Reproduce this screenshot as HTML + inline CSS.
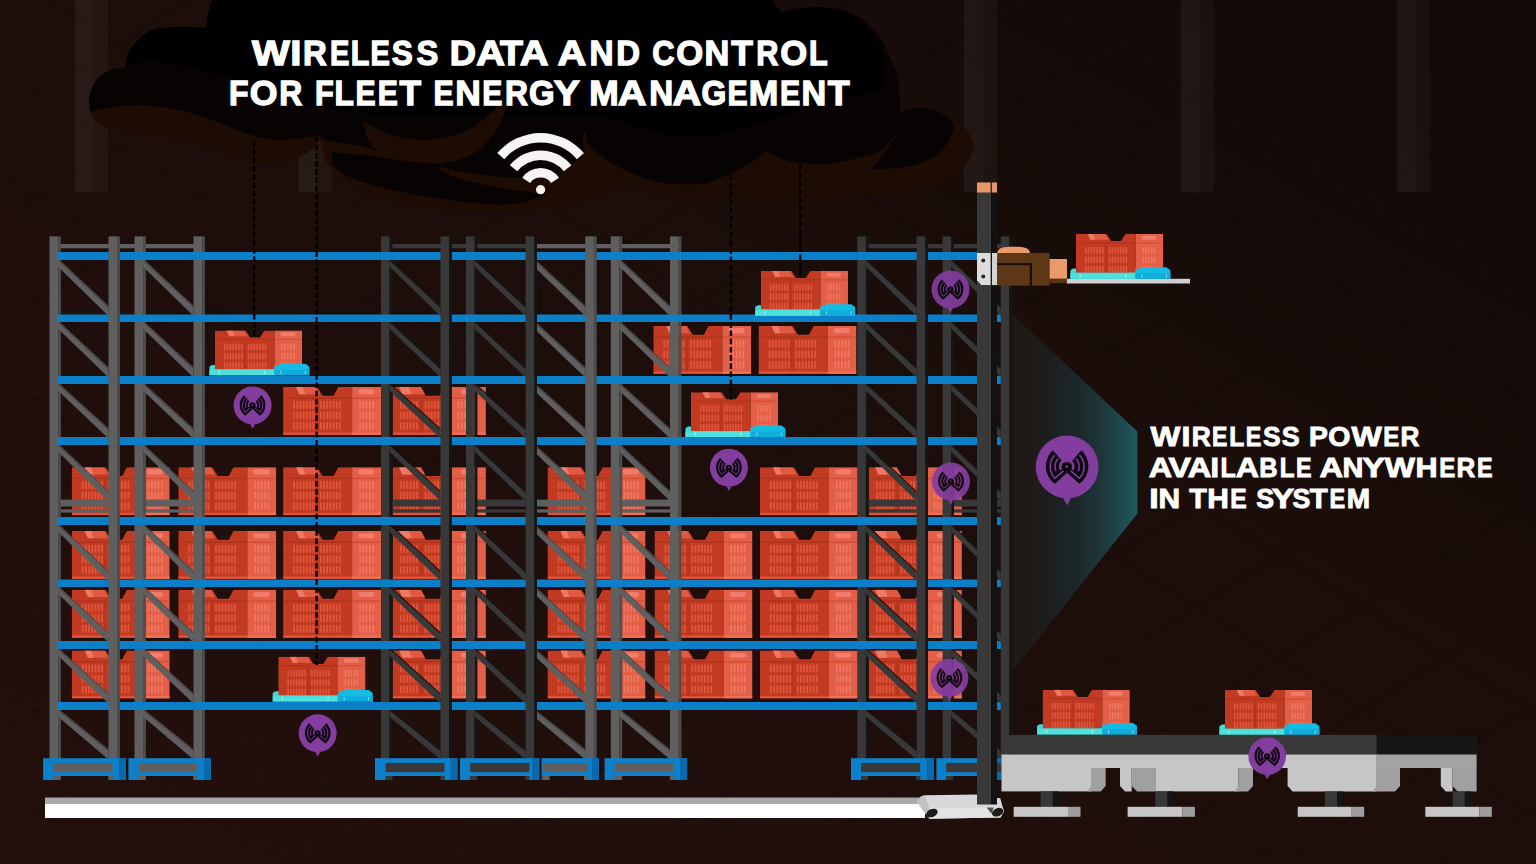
<!DOCTYPE html><html><head><meta charset="utf-8"><style>html,body{margin:0;padding:0;background:#1c0d0b;overflow:hidden}svg{display:block}</style></head><body>
<svg width="1536" height="864" viewBox="0 0 1536 864">
<defs>
<linearGradient id="bg" x1="0" y1="1" x2="1" y2="0"><stop offset="0" stop-color="#24100c"/><stop offset="0.25" stop-color="#210f0c"/><stop offset="0.5" stop-color="#1d0e0b"/><stop offset="0.65" stop-color="#1a0d0a"/><stop offset="0.8" stop-color="#150b08"/><stop offset="1" stop-color="#120906"/></linearGradient>
<linearGradient id="cone" x1="0" y1="0" x2="1" y2="0"><stop offset="0" stop-color="#201816"/><stop offset="0.15" stop-color="#1f1a18"/><stop offset="0.3" stop-color="#1d1e1e"/><stop offset="0.5" stop-color="#1c2729"/><stop offset="0.7" stop-color="#1d3539"/><stop offset="0.85" stop-color="#1e464c"/><stop offset="1" stop-color="#1f5960"/></linearGradient>
<linearGradient id="col" x1="0" y1="0" x2="1" y2="0"><stop offset="0" stop-color="#2c1c1a"/><stop offset="0.6" stop-color="#2a1a18"/><stop offset="1" stop-color="#251614"/></linearGradient>
<symbol id="crate" viewBox="0 0 98 49" preserveAspectRatio="none"><path d="M0 0H34L39.5 9H50.5L55.2 0H69V49H0Z" fill="#c23a22"/><rect x="69" y="0" width="29" height="49" fill="#e45f47"/><path d="M13 0H32.5L36.8 7.4H16.2Z" fill="#e05a42"/><path d="M13 0H19.5L22.0 7.4H16.2Z" fill="#ed7a64"/><rect x="0" y="10.7" width="69" height="1.4" fill="#ad341e"/><rect x="69" y="10.7" width="29" height="1.4" fill="#d14d36"/><rect x="32.5" y="11" width="2" height="38" fill="#b1361f"/><rect x="75" y="2.2" width="16.5" height="5.2" rx="2.5" fill="#f17c6b"/><rect x="10.10" y="14.3" width="1.8" height="7.8" fill="#df563d"/><rect x="10.10" y="25.1" width="1.8" height="7.6" fill="#df563d"/><rect x="10.10" y="35.8" width="1.8" height="7.6" fill="#df563d"/><rect x="13.30" y="14.3" width="1.8" height="7.8" fill="#df563d"/><rect x="13.30" y="25.1" width="1.8" height="7.6" fill="#df563d"/><rect x="13.30" y="35.8" width="1.8" height="7.6" fill="#df563d"/><rect x="16.50" y="14.3" width="1.8" height="7.8" fill="#df563d"/><rect x="16.50" y="25.1" width="1.8" height="7.6" fill="#df563d"/><rect x="16.50" y="35.8" width="1.8" height="7.6" fill="#df563d"/><rect x="19.70" y="14.3" width="1.8" height="7.8" fill="#df563d"/><rect x="19.70" y="25.1" width="1.8" height="7.6" fill="#df563d"/><rect x="19.70" y="35.8" width="1.8" height="7.6" fill="#df563d"/><rect x="22.90" y="14.3" width="1.8" height="7.8" fill="#df563d"/><rect x="22.90" y="25.1" width="1.8" height="7.6" fill="#df563d"/><rect x="22.90" y="35.8" width="1.8" height="7.6" fill="#df563d"/><rect x="26.10" y="14.3" width="1.8" height="7.8" fill="#df563d"/><rect x="26.10" y="25.1" width="1.8" height="7.6" fill="#df563d"/><rect x="26.10" y="35.8" width="1.8" height="7.6" fill="#df563d"/><rect x="29.30" y="14.3" width="1.8" height="7.8" fill="#df563d"/><rect x="29.30" y="25.1" width="1.8" height="7.6" fill="#df563d"/><rect x="29.30" y="35.8" width="1.8" height="7.6" fill="#df563d"/><rect x="36.90" y="14.3" width="1.8" height="7.8" fill="#df563d"/><rect x="36.90" y="25.1" width="1.8" height="7.6" fill="#df563d"/><rect x="36.90" y="35.8" width="1.8" height="7.6" fill="#df563d"/><rect x="40.05" y="14.3" width="1.8" height="7.8" fill="#df563d"/><rect x="40.05" y="25.1" width="1.8" height="7.6" fill="#df563d"/><rect x="40.05" y="35.8" width="1.8" height="7.6" fill="#df563d"/><rect x="43.20" y="14.3" width="1.8" height="7.8" fill="#df563d"/><rect x="43.20" y="25.1" width="1.8" height="7.6" fill="#df563d"/><rect x="43.20" y="35.8" width="1.8" height="7.6" fill="#df563d"/><rect x="46.35" y="14.3" width="1.8" height="7.8" fill="#df563d"/><rect x="46.35" y="25.1" width="1.8" height="7.6" fill="#df563d"/><rect x="46.35" y="35.8" width="1.8" height="7.6" fill="#df563d"/><rect x="49.50" y="14.3" width="1.8" height="7.8" fill="#df563d"/><rect x="49.50" y="25.1" width="1.8" height="7.6" fill="#df563d"/><rect x="49.50" y="35.8" width="1.8" height="7.6" fill="#df563d"/><rect x="52.65" y="14.3" width="1.8" height="7.8" fill="#df563d"/><rect x="52.65" y="25.1" width="1.8" height="7.6" fill="#df563d"/><rect x="52.65" y="35.8" width="1.8" height="7.6" fill="#df563d"/><rect x="55.80" y="14.3" width="1.8" height="7.8" fill="#df563d"/><rect x="55.80" y="25.1" width="1.8" height="7.6" fill="#df563d"/><rect x="55.80" y="35.8" width="1.8" height="7.6" fill="#df563d"/><rect x="76.10" y="14.3" width="1.6" height="7.8" fill="#ef7a63"/><rect x="76.10" y="25.1" width="1.6" height="7.6" fill="#ef7a63"/><rect x="76.10" y="35.8" width="1.6" height="7.6" fill="#ef7a63"/><rect x="79.40" y="14.3" width="1.6" height="7.8" fill="#ef7a63"/><rect x="79.40" y="25.1" width="1.6" height="7.6" fill="#ef7a63"/><rect x="79.40" y="35.8" width="1.6" height="7.6" fill="#ef7a63"/><rect x="82.70" y="14.3" width="1.6" height="7.8" fill="#ef7a63"/><rect x="82.70" y="25.1" width="1.6" height="7.6" fill="#ef7a63"/><rect x="82.70" y="35.8" width="1.6" height="7.6" fill="#ef7a63"/><rect x="86.00" y="14.3" width="1.6" height="7.8" fill="#ef7a63"/><rect x="86.00" y="25.1" width="1.6" height="7.6" fill="#ef7a63"/><rect x="86.00" y="35.8" width="1.6" height="7.6" fill="#ef7a63"/><rect x="89.30" y="14.3" width="1.6" height="7.8" fill="#ef7a63"/><rect x="89.30" y="25.1" width="1.6" height="7.6" fill="#ef7a63"/><rect x="89.30" y="35.8" width="1.6" height="7.6" fill="#ef7a63"/><rect x="0" y="46.4" width="69" height="2" fill="#e0553b"/><rect x="69" y="46.4" width="29" height="2" fill="#f07256"/></symbol>
<symbol id="crateR" viewBox="0 0 98 49" preserveAspectRatio="none"><path d="M0 0H34.5L39.5 9H50.5L55.6 0H67.1V49H0Z" fill="#c23a22"/><rect x="67.1" y="0" width="30.900000000000006" height="49" fill="#e45f47"/><path d="M13 0H32.5L36.8 7.4H16.2Z" fill="#e05a42"/><path d="M13 0H19.5L22.0 7.4H16.2Z" fill="#ed7a64"/><rect x="0" y="10.7" width="67.1" height="1.4" fill="#ad341e"/><rect x="67.1" y="10.7" width="30.900000000000006" height="1.4" fill="#d14d36"/><rect x="32.7" y="11" width="2" height="38" fill="#b1361f"/><rect x="73.5" y="2.2" width="17.0" height="5.2" rx="2.5" fill="#f17c6b"/><rect x="10.10" y="16.7" width="1.8" height="8.2" fill="#df563d"/><rect x="10.10" y="28.5" width="1.8" height="8.2" fill="#df563d"/><rect x="10.10" y="40.3" width="1.8" height="8.3" fill="#df563d"/><rect x="13.30" y="16.7" width="1.8" height="8.2" fill="#df563d"/><rect x="13.30" y="28.5" width="1.8" height="8.2" fill="#df563d"/><rect x="13.30" y="40.3" width="1.8" height="8.3" fill="#df563d"/><rect x="16.50" y="16.7" width="1.8" height="8.2" fill="#df563d"/><rect x="16.50" y="28.5" width="1.8" height="8.2" fill="#df563d"/><rect x="16.50" y="40.3" width="1.8" height="8.3" fill="#df563d"/><rect x="19.70" y="16.7" width="1.8" height="8.2" fill="#df563d"/><rect x="19.70" y="28.5" width="1.8" height="8.2" fill="#df563d"/><rect x="19.70" y="40.3" width="1.8" height="8.3" fill="#df563d"/><rect x="22.90" y="16.7" width="1.8" height="8.2" fill="#df563d"/><rect x="22.90" y="28.5" width="1.8" height="8.2" fill="#df563d"/><rect x="22.90" y="40.3" width="1.8" height="8.3" fill="#df563d"/><rect x="26.10" y="16.7" width="1.8" height="8.2" fill="#df563d"/><rect x="26.10" y="28.5" width="1.8" height="8.2" fill="#df563d"/><rect x="26.10" y="40.3" width="1.8" height="8.3" fill="#df563d"/><rect x="29.30" y="16.7" width="1.8" height="8.2" fill="#df563d"/><rect x="29.30" y="28.5" width="1.8" height="8.2" fill="#df563d"/><rect x="29.30" y="40.3" width="1.8" height="8.3" fill="#df563d"/><rect x="36.90" y="16.7" width="1.8" height="8.2" fill="#df563d"/><rect x="36.90" y="28.5" width="1.8" height="8.2" fill="#df563d"/><rect x="36.90" y="40.3" width="1.8" height="8.3" fill="#df563d"/><rect x="40.05" y="16.7" width="1.8" height="8.2" fill="#df563d"/><rect x="40.05" y="28.5" width="1.8" height="8.2" fill="#df563d"/><rect x="40.05" y="40.3" width="1.8" height="8.3" fill="#df563d"/><rect x="43.20" y="16.7" width="1.8" height="8.2" fill="#df563d"/><rect x="43.20" y="28.5" width="1.8" height="8.2" fill="#df563d"/><rect x="43.20" y="40.3" width="1.8" height="8.3" fill="#df563d"/><rect x="46.35" y="16.7" width="1.8" height="8.2" fill="#df563d"/><rect x="46.35" y="28.5" width="1.8" height="8.2" fill="#df563d"/><rect x="46.35" y="40.3" width="1.8" height="8.3" fill="#df563d"/><rect x="49.50" y="16.7" width="1.8" height="8.2" fill="#df563d"/><rect x="49.50" y="28.5" width="1.8" height="8.2" fill="#df563d"/><rect x="49.50" y="40.3" width="1.8" height="8.3" fill="#df563d"/><rect x="52.65" y="16.7" width="1.8" height="8.2" fill="#df563d"/><rect x="52.65" y="28.5" width="1.8" height="8.2" fill="#df563d"/><rect x="52.65" y="40.3" width="1.8" height="8.3" fill="#df563d"/><rect x="55.80" y="16.7" width="1.8" height="8.2" fill="#df563d"/><rect x="55.80" y="28.5" width="1.8" height="8.2" fill="#df563d"/><rect x="55.80" y="40.3" width="1.8" height="8.3" fill="#df563d"/><rect x="74.60" y="16.7" width="1.6" height="8.2" fill="#ef7a63"/><rect x="74.60" y="28.5" width="1.6" height="8.2" fill="#ef7a63"/><rect x="74.60" y="40.3" width="1.6" height="8.3" fill="#ef7a63"/><rect x="77.90" y="16.7" width="1.6" height="8.2" fill="#ef7a63"/><rect x="77.90" y="28.5" width="1.6" height="8.2" fill="#ef7a63"/><rect x="77.90" y="40.3" width="1.6" height="8.3" fill="#ef7a63"/><rect x="81.20" y="16.7" width="1.6" height="8.2" fill="#ef7a63"/><rect x="81.20" y="28.5" width="1.6" height="8.2" fill="#ef7a63"/><rect x="81.20" y="40.3" width="1.6" height="8.3" fill="#ef7a63"/><rect x="84.50" y="16.7" width="1.6" height="8.2" fill="#ef7a63"/><rect x="84.50" y="28.5" width="1.6" height="8.2" fill="#ef7a63"/><rect x="84.50" y="40.3" width="1.6" height="8.3" fill="#ef7a63"/><rect x="87.80" y="16.7" width="1.6" height="8.2" fill="#ef7a63"/><rect x="87.80" y="28.5" width="1.6" height="8.2" fill="#ef7a63"/><rect x="87.80" y="40.3" width="1.6" height="8.3" fill="#ef7a63"/></symbol>
<symbol id="crateB" viewBox="0 0 93.3 49" preserveAspectRatio="none"><path d="M0 0H28.4L32.8 9H47L51 0H58.5V49H0Z" fill="#c23a22"/><rect x="58.5" y="0" width="34.8" height="49" fill="#e45f47"/><path d="M6.5 0H28.2L32.5 7.4H9.7Z" fill="#e05a42"/><path d="M6.5 0H16.5L19.0 7.4H9.7Z" fill="#ed7a64"/><rect x="0" y="10.7" width="58.5" height="1.4" fill="#ad341e"/><rect x="58.5" y="10.7" width="34.8" height="1.4" fill="#d14d36"/><rect x="27.8" y="11" width="2" height="38" fill="#b1361f"/><rect x="68" y="2.2" width="16" height="5.2" rx="2.5" fill="#f17c6b"/><rect x="7.50" y="14.3" width="1.8" height="7.8" fill="#df563d"/><rect x="7.50" y="25.1" width="1.8" height="7.6" fill="#df563d"/><rect x="7.50" y="35.8" width="1.8" height="7.6" fill="#df563d"/><rect x="10.70" y="14.3" width="1.8" height="7.8" fill="#df563d"/><rect x="10.70" y="25.1" width="1.8" height="7.6" fill="#df563d"/><rect x="10.70" y="35.8" width="1.8" height="7.6" fill="#df563d"/><rect x="13.90" y="14.3" width="1.8" height="7.8" fill="#df563d"/><rect x="13.90" y="25.1" width="1.8" height="7.6" fill="#df563d"/><rect x="13.90" y="35.8" width="1.8" height="7.6" fill="#df563d"/><rect x="17.10" y="14.3" width="1.8" height="7.8" fill="#df563d"/><rect x="17.10" y="25.1" width="1.8" height="7.6" fill="#df563d"/><rect x="17.10" y="35.8" width="1.8" height="7.6" fill="#df563d"/><rect x="20.30" y="14.3" width="1.8" height="7.8" fill="#df563d"/><rect x="20.30" y="25.1" width="1.8" height="7.6" fill="#df563d"/><rect x="20.30" y="35.8" width="1.8" height="7.6" fill="#df563d"/><rect x="23.50" y="14.3" width="1.8" height="7.8" fill="#df563d"/><rect x="23.50" y="25.1" width="1.8" height="7.6" fill="#df563d"/><rect x="23.50" y="35.8" width="1.8" height="7.6" fill="#df563d"/><rect x="32.00" y="14.3" width="1.8" height="7.8" fill="#df563d"/><rect x="32.00" y="25.1" width="1.8" height="7.6" fill="#df563d"/><rect x="32.00" y="35.8" width="1.8" height="7.6" fill="#df563d"/><rect x="35.15" y="14.3" width="1.8" height="7.8" fill="#df563d"/><rect x="35.15" y="25.1" width="1.8" height="7.6" fill="#df563d"/><rect x="35.15" y="35.8" width="1.8" height="7.6" fill="#df563d"/><rect x="38.30" y="14.3" width="1.8" height="7.8" fill="#df563d"/><rect x="38.30" y="25.1" width="1.8" height="7.6" fill="#df563d"/><rect x="38.30" y="35.8" width="1.8" height="7.6" fill="#df563d"/><rect x="41.45" y="14.3" width="1.8" height="7.8" fill="#df563d"/><rect x="41.45" y="25.1" width="1.8" height="7.6" fill="#df563d"/><rect x="41.45" y="35.8" width="1.8" height="7.6" fill="#df563d"/><rect x="44.60" y="14.3" width="1.8" height="7.8" fill="#df563d"/><rect x="44.60" y="25.1" width="1.8" height="7.6" fill="#df563d"/><rect x="44.60" y="35.8" width="1.8" height="7.6" fill="#df563d"/><rect x="47.75" y="14.3" width="1.8" height="7.8" fill="#df563d"/><rect x="47.75" y="25.1" width="1.8" height="7.6" fill="#df563d"/><rect x="47.75" y="35.8" width="1.8" height="7.6" fill="#df563d"/><rect x="50.90" y="14.3" width="1.8" height="7.8" fill="#df563d"/><rect x="50.90" y="25.1" width="1.8" height="7.6" fill="#df563d"/><rect x="50.90" y="35.8" width="1.8" height="7.6" fill="#df563d"/><rect x="65.00" y="14.3" width="1.6" height="7.8" fill="#ef7a63"/><rect x="65.00" y="25.1" width="1.6" height="7.6" fill="#ef7a63"/><rect x="65.00" y="35.8" width="1.6" height="7.6" fill="#ef7a63"/><rect x="68.30" y="14.3" width="1.6" height="7.8" fill="#ef7a63"/><rect x="68.30" y="25.1" width="1.6" height="7.6" fill="#ef7a63"/><rect x="68.30" y="35.8" width="1.6" height="7.6" fill="#ef7a63"/><rect x="71.60" y="14.3" width="1.6" height="7.8" fill="#ef7a63"/><rect x="71.60" y="25.1" width="1.6" height="7.6" fill="#ef7a63"/><rect x="71.60" y="35.8" width="1.6" height="7.6" fill="#ef7a63"/><rect x="74.90" y="14.3" width="1.6" height="7.8" fill="#ef7a63"/><rect x="74.90" y="25.1" width="1.6" height="7.6" fill="#ef7a63"/><rect x="74.90" y="35.8" width="1.6" height="7.6" fill="#ef7a63"/><rect x="78.20" y="14.3" width="1.6" height="7.8" fill="#ef7a63"/><rect x="78.20" y="25.1" width="1.6" height="7.6" fill="#ef7a63"/><rect x="78.20" y="35.8" width="1.6" height="7.6" fill="#ef7a63"/><rect x="0" y="46.4" width="58.5" height="2" fill="#e0553b"/><rect x="58.5" y="46.4" width="34.8" height="2" fill="#f07256"/></symbol>
<g id="robotL"><path d="M0 1.8L2.5 0H66V10.4H0Z" fill="#42d8d4"/><rect x="0" y="5.0" width="66" height="5.4" fill="#4ee0db"/><rect x="9.3" y="5.8" width="0.8" height="3.4" fill="#c8fbfa"/><rect x="55" y="5.8" width="0.8" height="3.4" fill="#c8fbfa"/></g><g id="robotR"><path d="M65 10.4V2L71 -1.1H96L100 1.8V10.4Z" fill="#12bce3"/><rect x="65" y="5" width="35" height="5.4" fill="#10addb"/><rect x="71" y="5.8" width="0.8" height="3.4" fill="#9fe6f5"/><rect x="95.5" y="5.8" width="0.8" height="3.4" fill="#9fe6f5"/></g>
<g id="badge"><circle cx="0" cy="0" r="31.4" fill="#833d9f"/><path d="M-4.3 30.5L0 38.5L4.3 30.5Z" fill="#833d9f"/><path d="M-14.3 -16.6A21.6 21.6 0 0 0 -12.2 16.9L-0.3 6.1L-0.3 -0.4Z" fill="#0d0610"/><path d="M-12.36 -11.93A16.9 16.9 0 0 0 -12.16 11.34L-3.60 4.0" stroke="#833d9f" stroke-width="1.6" fill="none"/><path d="M-8.92 -8.43A12 12 0 0 0 -11.13 4.10" stroke="#833d9f" stroke-width="1.6" fill="none"/><path d="M14.3 -16.6A21.6 21.6 0 0 1 12.2 16.9L0.3 6.1L0.3 -0.4Z" fill="#0d0610"/><path d="M12.36 -11.93A16.9 16.9 0 0 1 12.16 11.34L3.60 4.0" stroke="#833d9f" stroke-width="1.6" fill="none"/><path d="M8.92 -8.43A12 12 0 0 1 11.13 4.10" stroke="#833d9f" stroke-width="1.6" fill="none"/><path d="M-5.93 2.85A6.5 6.5 0 1 1 5.33 2.85" stroke="#833d9f" stroke-width="2.6" fill="none"/><circle cx="-0.3" cy="-0.4" r="4.6" fill="#0d0610"/><circle cx="-0.3" cy="-0.4" r="1.3" fill="#833d9f"/></g>
<filter id="lblur" x="-5%" y="-5%" width="110%" height="110%"><feGaussianBlur stdDeviation="0.9"/></filter>
</defs>
<rect width="1536" height="864" fill="url(#bg)"/>
<path d="M0 -1054.0L1536 -105.3M0 -951.6L1536 -2.9M0 -849.2L1536 99.5M0 -746.8L1536 201.9M0 -644.4L1536 304.3M0 -542.0L1536 406.7M0 -439.6L1536 509.1M0 -337.2L1536 611.5M0 -234.8L1536 713.9M0 -132.4L1536 816.3M0 -30.0L1536 918.7M0 72.4L1536 1021.1M0 174.8L1536 1123.5M0 277.2L1536 1225.9M0 379.6L1536 1328.3M0 482.0L1536 1430.7M0 584.4L1536 1533.1M0 686.8L1536 1635.5M0 789.2L1536 1737.9M0 891.6L1536 1840.3M0 -87.8L1536 -1036.5M0 14.6L1536 -934.1M0 117.0L1536 -831.7M0 219.4L1536 -729.3M0 321.8L1536 -626.9M0 424.2L1536 -524.5M0 526.6L1536 -422.1M0 629.0L1536 -319.7M0 731.4L1536 -217.3M0 833.8L1536 -114.9M0 936.2L1536 -12.5M0 1038.6L1536 89.9M0 1141.0L1536 192.3M0 1243.4L1536 294.7M0 1345.8L1536 397.1M0 1448.2L1536 499.5M0 1550.6L1536 601.9M0 1653.0L1536 704.3M0 1755.4L1536 806.7M0 1857.8L1536 909.1" stroke="#000" stroke-opacity="0.15" stroke-width="2.6" fill="none" filter="url(#lblur)"/>
<rect x="75" y="0" width="19.8" height="192" fill="#fff" fill-opacity="0.05"/>
<rect x="94.8" y="0" width="13.2" height="192" fill="#fff" fill-opacity="0.035"/>
<rect x="298.6" y="0" width="20.0" height="192" fill="#fff" fill-opacity="0.05"/>
<rect x="318.6" y="0" width="13.4" height="192" fill="#fff" fill-opacity="0.035"/>
<rect x="963.6" y="0" width="20.0" height="192" fill="#fff" fill-opacity="0.05"/>
<rect x="983.6" y="0" width="13.4" height="192" fill="#fff" fill-opacity="0.035"/>
<rect x="1180.5" y="0" width="20.1" height="192" fill="#fff" fill-opacity="0.05"/>
<rect x="1200.6" y="0" width="13.4" height="192" fill="#fff" fill-opacity="0.035"/>
<rect x="1397" y="0" width="19.8" height="192" fill="#fff" fill-opacity="0.05"/>
<rect x="1416.8" y="0" width="13.2" height="192" fill="#fff" fill-opacity="0.035"/>
<path d="M90.4 112.3C92.5 114.6 95.1 122.4 103.0 126.0C110.9 129.6 126.3 131.8 138.0 134.0C149.7 136.2 161.5 136.7 173.0 139.0C184.5 141.3 195.5 144.5 207.0 148.0C218.5 151.5 232.3 157.3 242.0 160.0C251.7 162.7 257.3 163.7 265.0 164.0C272.7 164.3 280.3 164.3 288.0 162.0C295.7 159.7 305.7 153.8 311.0 150.0C316.3 146.2 318.5 140.8 320.0 139.0L320.0 139.0C322.3 144.5 323.0 161.8 334.0 172.0C345.0 182.2 367.8 193.7 386.0 200.0C404.2 206.3 422.7 208.2 443.0 210.0C463.3 211.8 488.7 211.5 508.0 211.0C527.3 210.5 545.0 209.0 559.0 207.0C573.0 205.0 580.8 202.7 592.0 199.0C603.2 195.3 616.0 186.2 626.0 185.0C636.0 183.8 639.7 189.6 652.0 192.0C664.3 194.4 682.9 197.9 700.0 199.4C717.1 200.9 736.5 200.9 754.7 201.2C772.9 201.5 791.2 201.9 809.4 201.2C827.6 200.4 845.8 198.7 864.0 196.7C882.2 194.7 903.5 192.8 918.7 189.4C933.9 186.1 946.1 183.3 955.2 176.6C964.3 169.9 971.3 156.7 973.4 149.3C975.5 141.9 971.1 137.1 968.0 132.0C964.9 127.0 959.7 122.2 955.0 119.0C950.3 115.8 947.5 113.8 940.0 113.0C932.5 112.2 915.0 113.8 910.0 114.0L910.0 114.0C901.7 114.7 911.7 120.3 860.0 118.0C808.3 115.7 693.3 103.0 600.0 100.0C506.7 97.0 380.0 98.7 300.0 100.0C220.0 101.3 154.9 106.0 120.0 108.0C85.1 110.0 95.3 111.6 90.4 112.3Z" fill="#1d0c04"/>
<path d="M90.4 112.3C92.5 111.7 95.1 110.0 103.0 108.8C110.9 107.6 126.3 105.3 137.9 105.3C149.5 105.3 161.0 106.7 172.6 108.8C184.2 110.9 195.7 114.1 207.3 118.0C218.9 121.9 230.4 128.3 242.0 132.0C253.6 135.7 265.2 139.2 276.8 140.0C288.4 140.8 304.6 137.5 311.5 136.6C318.4 135.7 316.9 134.8 318.0 134.4L318.0 134.4C320.3 136.8 329.7 146.3 332.0 148.7L332.0 148.7C332.0 150.6 331.8 156.9 332.2 160.0C332.6 163.1 330.2 163.9 334.4 167.3C338.6 170.7 346.3 176.1 357.3 180.2C368.3 184.3 386.0 188.6 400.3 191.7C414.6 194.8 431.0 197.0 443.3 198.9C455.6 200.8 463.1 202.0 473.9 202.9C484.6 203.8 497.9 205.2 507.8 204.6C517.7 204.0 527.0 201.2 533.2 199.5C539.4 197.8 543.0 195.2 545.0 194.4L545.0 194.4C546.8 192.5 553.2 186.9 556.0 183.0C558.8 179.1 558.8 174.2 562.0 170.7C565.2 167.2 571.3 165.4 575.0 162.0C578.7 158.6 582.8 154.0 584.0 150.0C585.2 146.0 582.1 141.3 582.4 138.0C582.7 134.7 585.2 131.3 585.8 130.0L585.8 130.0C586.2 132.2 585.5 138.8 588.0 143.0C590.5 147.2 594.6 150.8 601.0 155.4C607.4 160.0 616.5 166.2 626.4 170.7C636.3 175.2 648.0 180.2 660.3 182.5C672.6 184.8 690.4 184.9 700.0 184.2C709.6 183.5 712.1 180.6 718.2 178.4C724.3 176.2 730.4 174.1 736.5 171.1C742.6 168.1 749.9 163.5 754.7 160.2C759.6 156.8 763.8 152.5 765.6 151.0L765.6 151.0C768.3 152.2 776.2 156.4 782.0 158.4C787.8 160.4 792.7 162.0 800.3 162.9C807.9 163.8 817.0 165.0 827.6 163.9C838.2 162.8 854.9 159.0 864.0 156.6C873.1 154.2 877.1 152.8 882.3 149.3C887.5 145.8 892.9 137.9 895.0 135.6L895.0 135.6C892.9 139.1 886.4 151.1 882.3 156.6C878.2 162.1 872.4 166.4 870.4 168.4L870.4 168.4C873.9 168.4 883.3 169.2 891.4 168.4C899.5 167.7 910.5 166.8 918.7 163.9C926.9 161.0 935.1 155.9 940.6 151.0C946.1 146.1 949.5 139.5 951.5 134.7C953.5 129.8 954.9 125.9 952.5 121.9C950.1 118.0 942.6 113.3 937.0 111.0C931.4 108.7 924.8 108.1 918.7 108.3C912.6 108.5 903.5 111.3 900.5 111.9L900.5 111.9C900.4 109.9 900.0 105.3 899.6 100.0C899.2 94.7 899.4 86.7 898.0 80.0C896.6 73.3 894.3 67.5 891.0 60.0C887.7 52.5 883.5 42.2 878.0 35.0C872.5 27.8 866.0 21.5 858.0 17.0C850.0 12.5 839.7 9.4 830.0 8.0C820.3 6.6 808.0 7.8 800.0 8.5C792.0 9.2 784.8 11.8 781.7 12.5L781.7 12.5C780.6 11.2 777.0 7.4 775.0 5.0C773.0 2.6 770.8 -0.8 770.0 -2.0L770.0 -2.0C677.2 -2.0 305.8 -2.0 213.0 -2.0L213.0 -2.0C212.2 0.3 209.6 7.0 208.5 12.0C207.4 17.0 206.6 25.2 206.2 27.8L206.2 27.8C200.6 27.7 182.5 26.5 172.6 27.3C162.7 28.1 154.1 28.4 147.0 32.4C139.9 36.4 133.5 45.0 129.8 51.0C126.1 57.0 125.8 65.4 125.0 68.3L125.0 68.3C122.9 68.5 117.0 67.7 112.4 69.4C107.8 71.1 101.2 74.1 97.4 78.7C93.6 83.3 90.5 91.4 89.3 97.0C88.1 102.6 90.2 109.8 90.4 112.3Z" fill="#070302"/>
<path d="M125.0 68.3C129.0 67.1 137.2 60.9 149.0 61.0C160.8 61.1 180.5 65.3 196.0 69.0C211.5 72.7 230.5 79.0 242.0 83.0C253.5 87.0 255.3 89.7 265.0 93.0C274.7 96.3 284.2 99.8 300.0 103.0C315.8 106.2 340.0 109.5 360.0 112.0C380.0 114.5 396.7 117.5 420.0 118.0C443.3 118.5 476.7 115.0 500.0 115.0C523.3 115.0 543.3 117.8 560.0 118.0C576.7 118.2 586.7 114.3 600.0 116.0C613.3 117.7 627.0 124.5 640.0 128.0C653.0 131.5 663.0 136.4 678.0 137.0C693.0 137.6 712.7 135.2 730.0 131.7C747.3 128.2 764.7 121.2 782.0 116.0C799.3 110.8 821.0 103.7 834.0 100.4C847.0 97.1 852.3 97.7 860.0 96.0C867.7 94.3 876.7 91.0 880.0 90.0L880.0 90.0C880.7 84.3 887.7 67.6 884.0 55.6C880.3 43.6 867.0 25.9 858.0 18.0C849.0 10.1 839.7 9.6 830.0 8.0C820.3 6.4 808.0 7.8 800.0 8.5C792.0 9.2 784.8 11.8 781.7 12.5L781.7 12.5C780.6 11.2 777.0 7.4 775.0 5.0C773.0 2.6 770.8 -0.8 770.0 -2.0L770.0 -2.0C677.2 -2.0 305.8 -2.0 213.0 -2.0L213.0 -2.0C212.2 0.3 209.6 7.0 208.5 12.0C207.4 17.0 206.6 25.2 206.2 27.8L206.2 27.8C200.6 27.7 182.5 26.5 172.6 27.3C162.7 28.1 154.1 28.4 147.0 32.4C139.9 36.4 133.5 45.0 129.8 51.0C126.1 57.0 125.8 65.4 125.0 68.3Z" fill="#000"/>
<path d="M362.6 121.0C364.8 122.2 370.2 125.7 375.6 128.2C381.0 130.7 387.4 134.0 395.0 136.0C402.6 138.0 412.3 139.8 421.0 140.0C429.7 140.2 438.3 139.5 447.0 137.3C455.7 135.1 465.4 131.2 473.0 126.9C480.6 122.6 487.8 116.5 492.8 111.3C497.8 106.1 501.3 98.5 503.0 96.0L503.0 96.0C503.4 97.7 505.7 102.2 505.5 106.0C505.3 109.8 503.5 115.1 502.0 119.0C500.5 122.9 500.4 124.5 496.7 129.5C493.0 134.5 485.8 144.0 479.7 149.0C473.6 154.0 467.6 157.0 460.0 159.4C452.4 161.8 444.8 163.3 434.0 163.3C423.2 163.3 405.8 160.7 395.0 159.4C384.2 158.1 379.5 156.8 369.0 155.5C358.5 154.2 340.5 154.8 332.0 151.5C323.5 148.2 320.3 138.6 318.0 136.0L318.0 136.0C318.0 135.7 318.0 134.7 318.0 134.4L318.0 134.4C320.0 135.5 323.7 139.4 330.0 141.2C336.3 143.0 348.1 143.4 356.0 145.0C363.9 146.6 373.9 150.0 377.5 151.0L377.5 151.0C375.9 149.2 370.1 143.5 368.0 140.0C365.9 136.5 365.9 133.2 365.0 130.0C364.1 126.8 363.0 122.5 362.6 121.0Z" fill="#1d0c04"/>
<path d="M438.0 166.0C441.7 166.9 449.8 169.7 460.0 171.5C470.2 173.3 488.2 175.5 499.0 176.6C509.8 177.7 516.2 178.0 524.7 177.8C533.2 177.7 543.8 176.9 550.0 175.7C556.2 174.5 560.0 171.5 562.0 170.7L562.0 170.7C561.0 172.8 558.8 179.1 556.0 183.0C553.2 186.9 546.8 192.5 545.0 194.4L545.0 194.4C543.0 194.1 542.2 194.1 533.2 192.7C524.2 191.3 503.8 188.6 490.8 186.0C477.8 183.4 463.8 179.8 455.0 177.0C446.2 174.2 440.8 170.3 438.0 169.0Z" fill="#1d0c04"/>
<path d="M895.0 135.6C892.9 139.1 886.4 151.1 882.3 156.6C878.2 162.1 872.4 166.4 870.4 168.4L870.4 168.4C869.7 167.0 864.0 163.2 866.0 160.0C868.0 156.8 877.5 153.4 882.3 149.3C887.1 145.2 892.9 137.9 895.0 135.6Z" fill="#1d0c04"/>
<g transform="translate(0 0.4)">
<text x="251.91" y="65.06" font-family="Liberation Sans, sans-serif" font-weight="bold" font-size="34.6" fill="#fff" stroke="#fff" stroke-width="1.3" textLength="37.78" lengthAdjust="spacingAndGlyphs">W</text>
<text x="290.26" y="65.06" font-family="Liberation Sans, sans-serif" font-weight="bold" font-size="34.6" fill="#fff" stroke="#fff" stroke-width="1.3" textLength="11.19" lengthAdjust="spacingAndGlyphs">I</text>
<text x="303.05" y="65.06" font-family="Liberation Sans, sans-serif" font-weight="bold" font-size="34.6" fill="#fff" stroke="#fff" stroke-width="1.3" textLength="23.78" lengthAdjust="spacingAndGlyphs">R</text>
<text x="330.01" y="65.06" font-family="Liberation Sans, sans-serif" font-weight="bold" font-size="34.6" fill="#fff" stroke="#fff" stroke-width="1.3" textLength="19.38" lengthAdjust="spacingAndGlyphs">E</text>
<text x="350.82" y="65.06" font-family="Liberation Sans, sans-serif" font-weight="bold" font-size="34.6" fill="#fff" stroke="#fff" stroke-width="1.3" textLength="18.57" lengthAdjust="spacingAndGlyphs">L</text>
<text x="370.41" y="65.06" font-family="Liberation Sans, sans-serif" font-weight="bold" font-size="34.6" fill="#fff" stroke="#fff" stroke-width="1.3" textLength="19.38" lengthAdjust="spacingAndGlyphs">E</text>
<text x="391.64" y="65.06" font-family="Liberation Sans, sans-serif" font-weight="bold" font-size="34.6" fill="#fff" stroke="#fff" stroke-width="1.3" textLength="21.04" lengthAdjust="spacingAndGlyphs">S</text>
<text x="416.41" y="65.06" font-family="Liberation Sans, sans-serif" font-weight="bold" font-size="34.6" fill="#fff" stroke="#fff" stroke-width="1.3" textLength="21.82" lengthAdjust="spacingAndGlyphs">S</text>
<text x="449.82" y="65.06" font-family="Liberation Sans, sans-serif" font-weight="bold" font-size="34.6" fill="#fff" stroke="#fff" stroke-width="1.3" textLength="26.26" lengthAdjust="spacingAndGlyphs">D</text>
<text x="476.16" y="65.06" font-family="Liberation Sans, sans-serif" font-weight="bold" font-size="34.6" fill="#fff" stroke="#fff" stroke-width="1.3" textLength="28.74" lengthAdjust="spacingAndGlyphs">A</text>
<text x="500.13" y="65.06" font-family="Liberation Sans, sans-serif" font-weight="bold" font-size="34.6" fill="#fff" stroke="#fff" stroke-width="1.3" textLength="22.92" lengthAdjust="spacingAndGlyphs">T</text>
<text x="519.76" y="65.06" font-family="Liberation Sans, sans-serif" font-weight="bold" font-size="34.6" fill="#fff" stroke="#fff" stroke-width="1.3" textLength="28.74" lengthAdjust="spacingAndGlyphs">A</text>
<text x="557.46" y="65.06" font-family="Liberation Sans, sans-serif" font-weight="bold" font-size="34.6" fill="#fff" stroke="#fff" stroke-width="1.3" textLength="28.74" lengthAdjust="spacingAndGlyphs">A</text>
<text x="589.42" y="65.06" font-family="Liberation Sans, sans-serif" font-weight="bold" font-size="34.6" fill="#fff" stroke="#fff" stroke-width="1.3" textLength="24.08" lengthAdjust="spacingAndGlyphs">N</text>
<text x="616.15" y="65.06" font-family="Liberation Sans, sans-serif" font-weight="bold" font-size="34.6" fill="#fff" stroke="#fff" stroke-width="1.3" textLength="23.79" lengthAdjust="spacingAndGlyphs">D</text>
<text x="652.18" y="65.06" font-family="Liberation Sans, sans-serif" font-weight="bold" font-size="34.6" fill="#fff" stroke="#fff" stroke-width="1.3" textLength="22.31" lengthAdjust="spacingAndGlyphs">C</text>
<text x="676.13" y="65.06" font-family="Liberation Sans, sans-serif" font-weight="bold" font-size="34.6" fill="#fff" stroke="#fff" stroke-width="1.3" textLength="26.98" lengthAdjust="spacingAndGlyphs">O</text>
<text x="704.55" y="65.06" font-family="Liberation Sans, sans-serif" font-weight="bold" font-size="34.6" fill="#fff" stroke="#fff" stroke-width="1.3" textLength="24.81" lengthAdjust="spacingAndGlyphs">N</text>
<text x="731.15" y="65.06" font-family="Liberation Sans, sans-serif" font-weight="bold" font-size="34.6" fill="#fff" stroke="#fff" stroke-width="1.3" textLength="21.58" lengthAdjust="spacingAndGlyphs">T</text>
<text x="756.20" y="65.06" font-family="Liberation Sans, sans-serif" font-weight="bold" font-size="34.6" fill="#fff" stroke="#fff" stroke-width="1.3" textLength="22.18" lengthAdjust="spacingAndGlyphs">R</text>
<text x="780.23" y="65.06" font-family="Liberation Sans, sans-serif" font-weight="bold" font-size="34.6" fill="#fff" stroke="#fff" stroke-width="1.3" textLength="26.98" lengthAdjust="spacingAndGlyphs">O</text>
<text x="808.90" y="65.06" font-family="Liberation Sans, sans-serif" font-weight="bold" font-size="34.6" fill="#fff" stroke="#fff" stroke-width="1.3" textLength="18.69" lengthAdjust="spacingAndGlyphs">L</text>
<text x="229.11" y="104.76" font-family="Liberation Sans, sans-serif" font-weight="bold" font-size="34.6" fill="#fff" stroke="#fff" stroke-width="1.3" textLength="19.51" lengthAdjust="spacingAndGlyphs">F</text>
<text x="249.89" y="104.76" font-family="Liberation Sans, sans-serif" font-weight="bold" font-size="34.6" fill="#fff" stroke="#fff" stroke-width="1.3" textLength="27.76" lengthAdjust="spacingAndGlyphs">O</text>
<text x="279.22" y="104.76" font-family="Liberation Sans, sans-serif" font-weight="bold" font-size="34.6" fill="#fff" stroke="#fff" stroke-width="1.3" textLength="22.98" lengthAdjust="spacingAndGlyphs">R</text>
<text x="315.09" y="104.76" font-family="Liberation Sans, sans-serif" font-weight="bold" font-size="34.6" fill="#fff" stroke="#fff" stroke-width="1.3" textLength="18.78" lengthAdjust="spacingAndGlyphs">F</text>
<text x="334.53" y="104.76" font-family="Liberation Sans, sans-serif" font-weight="bold" font-size="34.6" fill="#fff" stroke="#fff" stroke-width="1.3" textLength="19.40" lengthAdjust="spacingAndGlyphs">L</text>
<text x="355.53" y="104.76" font-family="Liberation Sans, sans-serif" font-weight="bold" font-size="34.6" fill="#fff" stroke="#fff" stroke-width="1.3" textLength="20.09" lengthAdjust="spacingAndGlyphs">E</text>
<text x="377.63" y="104.76" font-family="Liberation Sans, sans-serif" font-weight="bold" font-size="34.6" fill="#fff" stroke="#fff" stroke-width="1.3" textLength="20.09" lengthAdjust="spacingAndGlyphs">E</text>
<text x="399.45" y="104.76" font-family="Liberation Sans, sans-serif" font-weight="bold" font-size="34.6" fill="#fff" stroke="#fff" stroke-width="1.3" textLength="21.58" lengthAdjust="spacingAndGlyphs">T</text>
<text x="433.43" y="104.76" font-family="Liberation Sans, sans-serif" font-weight="bold" font-size="34.6" fill="#fff" stroke="#fff" stroke-width="1.3" textLength="20.09" lengthAdjust="spacingAndGlyphs">E</text>
<text x="455.18" y="104.76" font-family="Liberation Sans, sans-serif" font-weight="bold" font-size="34.6" fill="#fff" stroke="#fff" stroke-width="1.3" textLength="25.55" lengthAdjust="spacingAndGlyphs">N</text>
<text x="482.23" y="104.76" font-family="Liberation Sans, sans-serif" font-weight="bold" font-size="34.6" fill="#fff" stroke="#fff" stroke-width="1.3" textLength="20.09" lengthAdjust="spacingAndGlyphs">E</text>
<text x="504.92" y="104.76" font-family="Liberation Sans, sans-serif" font-weight="bold" font-size="34.6" fill="#fff" stroke="#fff" stroke-width="1.3" textLength="22.98" lengthAdjust="spacingAndGlyphs">R</text>
<text x="529.10" y="104.76" font-family="Liberation Sans, sans-serif" font-weight="bold" font-size="34.6" fill="#fff" stroke="#fff" stroke-width="1.3" textLength="25.59" lengthAdjust="spacingAndGlyphs">G</text>
<text x="553.88" y="104.76" font-family="Liberation Sans, sans-serif" font-weight="bold" font-size="34.6" fill="#fff" stroke="#fff" stroke-width="1.3" textLength="26.10" lengthAdjust="spacingAndGlyphs">Y</text>
<text x="589.19" y="104.76" font-family="Liberation Sans, sans-serif" font-weight="bold" font-size="34.6" fill="#fff" stroke="#fff" stroke-width="1.3" textLength="29.43" lengthAdjust="spacingAndGlyphs">M</text>
<text x="617.86" y="104.76" font-family="Liberation Sans, sans-serif" font-weight="bold" font-size="34.6" fill="#fff" stroke="#fff" stroke-width="1.3" textLength="28.74" lengthAdjust="spacingAndGlyphs">A</text>
<text x="649.23" y="104.76" font-family="Liberation Sans, sans-serif" font-weight="bold" font-size="34.6" fill="#fff" stroke="#fff" stroke-width="1.3" textLength="23.95" lengthAdjust="spacingAndGlyphs">N</text>
<text x="672.56" y="104.76" font-family="Liberation Sans, sans-serif" font-weight="bold" font-size="34.6" fill="#fff" stroke="#fff" stroke-width="1.3" textLength="28.74" lengthAdjust="spacingAndGlyphs">A</text>
<text x="701.54" y="104.76" font-family="Liberation Sans, sans-serif" font-weight="bold" font-size="34.6" fill="#fff" stroke="#fff" stroke-width="1.3" textLength="24.78" lengthAdjust="spacingAndGlyphs">G</text>
<text x="727.43" y="104.76" font-family="Liberation Sans, sans-serif" font-weight="bold" font-size="34.6" fill="#fff" stroke="#fff" stroke-width="1.3" textLength="20.09" lengthAdjust="spacingAndGlyphs">E</text>
<text x="748.78" y="104.76" font-family="Liberation Sans, sans-serif" font-weight="bold" font-size="34.6" fill="#fff" stroke="#fff" stroke-width="1.3" textLength="29.55" lengthAdjust="spacingAndGlyphs">M</text>
<text x="779.88" y="104.76" font-family="Liberation Sans, sans-serif" font-weight="bold" font-size="34.6" fill="#fff" stroke="#fff" stroke-width="1.3" textLength="20.15" lengthAdjust="spacingAndGlyphs">E</text>
<text x="801.46" y="104.76" font-family="Liberation Sans, sans-serif" font-weight="bold" font-size="34.6" fill="#fff" stroke="#fff" stroke-width="1.3" textLength="24.69" lengthAdjust="spacingAndGlyphs">N</text>
<text x="827.85" y="104.76" font-family="Liberation Sans, sans-serif" font-weight="bold" font-size="34.6" fill="#fff" stroke="#fff" stroke-width="1.3" textLength="21.89" lengthAdjust="spacingAndGlyphs">T</text>
</g>
<path d="M497.27 153.12A56.9 56.9 0 0 1 583.93 153.12L576.85 159.15A47.6 47.6 0 0 0 504.35 159.15Z" fill="#f7f5f3"/>
<path d="M509.90 165.14A39.5 39.5 0 0 1 571.30 165.14L563.84 171.18A29.9 29.9 0 0 0 517.36 171.18Z" fill="#f7f5f3"/>
<path d="M522.28 177.64A22.1 22.1 0 0 1 558.92 177.64L551.05 182.95A12.6 12.6 0 0 0 530.15 182.95Z" fill="#f7f5f3"/>
<circle cx="540.6" cy="189.7" r="4.6" fill="#f7f5f3"/>
<use href="#crate" x="653.3" y="325.9" width="98" height="48.2"/>
<use href="#crate" x="758.5" y="325.9" width="98" height="48.2"/>
<use href="#crate" x="283.1" y="387" width="98" height="48.2"/>
<use href="#crateB" x="392.6" y="387" width="93.3" height="48.2"/>
<use href="#crate" x="71.7" y="467.2" width="98" height="48.2"/>
<use href="#crate" x="178.3" y="467.2" width="98" height="48.2"/>
<use href="#crate" x="283.1" y="467.2" width="98" height="48.2"/>
<use href="#crateB" x="392.6" y="467.2" width="93.3" height="48.2"/>
<use href="#crate" x="547.5" y="467.2" width="98" height="48.2"/>
<use href="#crate" x="759.9" y="467.2" width="98" height="48.2"/>
<use href="#crateB" x="868.6" y="467.2" width="93.3" height="48.2"/>
<use href="#crate" x="71.7" y="531.0" width="98" height="48.2"/>
<use href="#crate" x="178.3" y="531.0" width="98" height="48.2"/>
<use href="#crate" x="283.1" y="531.0" width="98" height="48.2"/>
<use href="#crateB" x="392.6" y="531.0" width="93.3" height="48.2"/>
<use href="#crate" x="547.5" y="531.0" width="98" height="48.2"/>
<use href="#crate" x="654.5" y="531.0" width="98" height="48.2"/>
<use href="#crate" x="759.9" y="531.0" width="98" height="48.2"/>
<use href="#crateB" x="868.6" y="531.0" width="93.3" height="48.2"/>
<use href="#crate" x="71.7" y="589.8" width="98" height="48.2"/>
<use href="#crate" x="178.3" y="589.8" width="98" height="48.2"/>
<use href="#crate" x="283.1" y="589.8" width="98" height="48.2"/>
<use href="#crateB" x="392.6" y="589.8" width="93.3" height="48.2"/>
<use href="#crate" x="547.5" y="589.8" width="98" height="48.2"/>
<use href="#crate" x="654.5" y="589.8" width="98" height="48.2"/>
<use href="#crate" x="759.9" y="589.8" width="98" height="48.2"/>
<use href="#crateB" x="868.6" y="589.8" width="93.3" height="48.2"/>
<use href="#crate" x="71.7" y="650.5" width="98" height="48.2"/>
<use href="#crateB" x="392.6" y="650.5" width="93.3" height="48.2"/>
<use href="#crate" x="547.5" y="650.5" width="98" height="48.2"/>
<use href="#crate" x="654.5" y="650.5" width="98" height="48.2"/>
<use href="#crate" x="759.9" y="650.5" width="98" height="48.2"/>
<use href="#crateB" x="868.6" y="650.5" width="93.3" height="48.2"/>
<rect x="58" y="244" width="142" height="4.3" fill="#5f5f5f"/>
<rect x="58.1" y="499.6" width="50.4" height="6.9" fill="#5f5f5f"/>
<rect x="58.1" y="509.3" width="50.4" height="3.3" fill="#5f5f5f"/>
<rect x="143.1" y="499.6" width="50.400000000000006" height="6.9" fill="#5f5f5f"/>
<rect x="143.1" y="509.3" width="50.400000000000006" height="3.3" fill="#5f5f5f"/>
<rect x="49.5" y="236.4" width="8.6" height="543.6" fill="#5f5f5f"/><rect x="58.1" y="236.4" width="2.8" height="543.6" fill="#4d4d4d"/>
<rect x="134.5" y="236.4" width="8.6" height="543.6" fill="#5f5f5f"/><rect x="143.1" y="236.4" width="2.8" height="543.6" fill="#4d4d4d"/>
<rect x="193.5" y="236.4" width="8.6" height="543.6" fill="#5f5f5f"/><rect x="202.1" y="236.4" width="2.8" height="543.6" fill="#4d4d4d"/>
<rect x="389" y="244" width="147" height="4.3" fill="#383838"/>
<rect x="389.6" y="499.6" width="50.89999999999998" height="6.9" fill="#383838"/>
<rect x="389.6" y="509.3" width="50.89999999999998" height="3.3" fill="#383838"/>
<rect x="474.6" y="499.6" width="51.0" height="6.9" fill="#383838"/>
<rect x="474.6" y="509.3" width="51.0" height="3.3" fill="#383838"/>
<rect x="381" y="236.4" width="8.6" height="543.6" fill="#383838"/><rect x="389.6" y="236.4" width="2.8" height="543.6" fill="#151515"/>
<rect x="466" y="236.4" width="8.6" height="543.6" fill="#383838"/><rect x="474.6" y="236.4" width="2.8" height="543.6" fill="#151515"/>
<rect x="537" y="244" width="143" height="4.3" fill="#5f5f5f"/>
<rect x="534.2" y="499.6" width="51.09999999999991" height="6.9" fill="#5f5f5f"/>
<rect x="534.2" y="509.3" width="51.09999999999991" height="3.3" fill="#5f5f5f"/>
<rect x="619.4" y="499.6" width="50.60000000000002" height="6.9" fill="#5f5f5f"/>
<rect x="619.4" y="509.3" width="50.60000000000002" height="3.3" fill="#5f5f5f"/>
<rect x="610.8" y="236.4" width="8.6" height="543.6" fill="#5f5f5f"/><rect x="619.4" y="236.4" width="2.8" height="543.6" fill="#4d4d4d"/>
<rect x="670" y="236.4" width="8.6" height="543.6" fill="#5f5f5f"/><rect x="678.6" y="236.4" width="2.8" height="543.6" fill="#4d4d4d"/>
<rect x="865" y="244" width="143" height="4.3" fill="#383838"/>
<rect x="865.9" y="499.6" width="50.700000000000045" height="6.9" fill="#383838"/>
<rect x="865.9" y="509.3" width="50.700000000000045" height="3.3" fill="#383838"/>
<rect x="951.2" y="499.6" width="49.59999999999991" height="6.9" fill="#383838"/>
<rect x="951.2" y="509.3" width="49.59999999999991" height="3.3" fill="#383838"/>
<rect x="857.3" y="236.4" width="8.6" height="543.6" fill="#383838"/><rect x="865.9" y="236.4" width="2.8" height="543.6" fill="#151515"/>
<rect x="942.6" y="236.4" width="8.6" height="543.6" fill="#383838"/><rect x="951.2" y="236.4" width="2.8" height="543.6" fill="#151515"/>
<rect x="57" y="252" width="920" height="8" fill="#0b7fc8"/>
<rect x="996" y="252" width="6" height="8" fill="#0b7fc8"/>
<rect x="57" y="314.5" width="920" height="7.5" fill="#0b7fc8"/>
<rect x="996" y="314.5" width="6" height="7.5" fill="#0b7fc8"/>
<rect x="57" y="376" width="920" height="8" fill="#0b7fc8"/>
<rect x="996" y="376" width="6" height="8" fill="#0b7fc8"/>
<rect x="57" y="437" width="920" height="8" fill="#0b7fc8"/>
<rect x="996" y="437" width="6" height="8" fill="#0b7fc8"/>
<rect x="57" y="517" width="920" height="8" fill="#0b7fc8"/>
<rect x="996" y="517" width="6" height="8" fill="#0b7fc8"/>
<rect x="57" y="579.5" width="920" height="7.5" fill="#0b7fc8"/>
<rect x="996" y="579.5" width="6" height="7.5" fill="#0b7fc8"/>
<rect x="57" y="641" width="920" height="8" fill="#0b7fc8"/>
<rect x="996" y="641" width="6" height="8" fill="#0b7fc8"/>
<rect x="57" y="702" width="920" height="8" fill="#0b7fc8"/>
<rect x="996" y="702" width="6" height="8" fill="#0b7fc8"/>
<path d="M58.1 260.3L108.5 307.5L108.5 316.0L58.1 266.8Z" fill="#5f5f5f"/><path d="M59.7 260L108.5 305.8L108.5 307.5L58.1 260.3Z" fill="#4d4d4d"/>
<path d="M58.1 322.3L108.5 369L108.5 377.5L58.1 328.8Z" fill="#5f5f5f"/><path d="M59.7 322L108.5 367.3L108.5 369L58.1 322.3Z" fill="#4d4d4d"/>
<path d="M58.1 384.3L108.5 430L108.5 438.5L58.1 390.8Z" fill="#5f5f5f"/><path d="M59.7 384L108.5 428.3L108.5 430L58.1 384.3Z" fill="#4d4d4d"/>
<path d="M58.1 445.3L108.5 492.6L108.5 501.1L58.1 451.8Z" fill="#5f5f5f"/><path d="M59.7 445L108.5 490.90000000000003L108.5 492.6L58.1 445.3Z" fill="#4d4d4d"/>
<path d="M58.1 525.3L108.5 572.5L108.5 581.0L58.1 531.8Z" fill="#5f5f5f"/><path d="M59.7 525L108.5 570.8L108.5 572.5L58.1 525.3Z" fill="#4d4d4d"/>
<path d="M58.1 587.3L108.5 634L108.5 642.5L58.1 593.8Z" fill="#5f5f5f"/><path d="M59.7 587L108.5 632.3L108.5 634L58.1 587.3Z" fill="#4d4d4d"/>
<path d="M58.1 649.3L108.5 695L108.5 703.5L58.1 655.8Z" fill="#5f5f5f"/><path d="M59.7 649L108.5 693.3L108.5 695L58.1 649.3Z" fill="#4d4d4d"/>
<path d="M58.1 710.3L108.5 751L108.5 759.5L58.1 716.8Z" fill="#5f5f5f"/><path d="M59.7 710L108.5 749.3L108.5 751L58.1 710.3Z" fill="#4d4d4d"/>
<path d="M143.1 260.3L193.5 307.5L193.5 316.0L143.1 266.8Z" fill="#5f5f5f"/><path d="M144.7 260L193.5 305.8L193.5 307.5L143.1 260.3Z" fill="#4d4d4d"/>
<path d="M143.1 322.3L193.5 369L193.5 377.5L143.1 328.8Z" fill="#5f5f5f"/><path d="M144.7 322L193.5 367.3L193.5 369L143.1 322.3Z" fill="#4d4d4d"/>
<path d="M143.1 384.3L193.5 430L193.5 438.5L143.1 390.8Z" fill="#5f5f5f"/><path d="M144.7 384L193.5 428.3L193.5 430L143.1 384.3Z" fill="#4d4d4d"/>
<path d="M143.1 445.3L193.5 492.6L193.5 501.1L143.1 451.8Z" fill="#5f5f5f"/><path d="M144.7 445L193.5 490.90000000000003L193.5 492.6L143.1 445.3Z" fill="#4d4d4d"/>
<path d="M143.1 525.3L193.5 572.5L193.5 581.0L143.1 531.8Z" fill="#5f5f5f"/><path d="M144.7 525L193.5 570.8L193.5 572.5L143.1 525.3Z" fill="#4d4d4d"/>
<path d="M143.1 587.3L193.5 634L193.5 642.5L143.1 593.8Z" fill="#5f5f5f"/><path d="M144.7 587L193.5 632.3L193.5 634L143.1 587.3Z" fill="#4d4d4d"/>
<path d="M143.1 649.3L193.5 695L193.5 703.5L143.1 655.8Z" fill="#5f5f5f"/><path d="M144.7 649L193.5 693.3L193.5 695L143.1 649.3Z" fill="#4d4d4d"/>
<path d="M143.1 710.3L193.5 751L193.5 759.5L143.1 716.8Z" fill="#5f5f5f"/><path d="M144.7 710L193.5 749.3L193.5 751L143.1 710.3Z" fill="#4d4d4d"/>
<path d="M389.6 260.3L440.5 307.5L440.5 316.0L389.6 266.8Z" fill="#383838"/><path d="M391.20000000000005 260L440.5 305.8L440.5 307.5L389.6 260.3Z" fill="#151515"/>
<path d="M389.6 322.3L440.5 369L440.5 377.5L389.6 328.8Z" fill="#383838"/><path d="M391.20000000000005 322L440.5 367.3L440.5 369L389.6 322.3Z" fill="#151515"/>
<path d="M389.6 384.3L440.5 430L440.5 438.5L389.6 390.8Z" fill="#383838"/><path d="M391.20000000000005 384L440.5 428.3L440.5 430L389.6 384.3Z" fill="#151515"/>
<path d="M389.6 445.3L440.5 492.6L440.5 501.1L389.6 451.8Z" fill="#383838"/><path d="M391.20000000000005 445L440.5 490.90000000000003L440.5 492.6L389.6 445.3Z" fill="#151515"/>
<path d="M389.6 525.3L440.5 572.5L440.5 581.0L389.6 531.8Z" fill="#383838"/><path d="M391.20000000000005 525L440.5 570.8L440.5 572.5L389.6 525.3Z" fill="#151515"/>
<path d="M389.6 587.3L440.5 634L440.5 642.5L389.6 593.8Z" fill="#383838"/><path d="M391.20000000000005 587L440.5 632.3L440.5 634L389.6 587.3Z" fill="#151515"/>
<path d="M389.6 649.3L440.5 695L440.5 703.5L389.6 655.8Z" fill="#383838"/><path d="M391.20000000000005 649L440.5 693.3L440.5 695L389.6 649.3Z" fill="#151515"/>
<path d="M389.6 710.3L440.5 751L440.5 759.5L389.6 716.8Z" fill="#383838"/><path d="M391.20000000000005 710L440.5 749.3L440.5 751L389.6 710.3Z" fill="#151515"/>
<path d="M474.6 260.3L525.6 307.5L525.6 316.0L474.6 266.8Z" fill="#383838"/><path d="M476.20000000000005 260L525.6 305.8L525.6 307.5L474.6 260.3Z" fill="#151515"/>
<path d="M474.6 322.3L525.6 369L525.6 377.5L474.6 328.8Z" fill="#383838"/><path d="M476.20000000000005 322L525.6 367.3L525.6 369L474.6 322.3Z" fill="#151515"/>
<path d="M474.6 384.3L525.6 430L525.6 438.5L474.6 390.8Z" fill="#383838"/><path d="M476.20000000000005 384L525.6 428.3L525.6 430L474.6 384.3Z" fill="#151515"/>
<path d="M474.6 445.3L525.6 492.6L525.6 501.1L474.6 451.8Z" fill="#383838"/><path d="M476.20000000000005 445L525.6 490.90000000000003L525.6 492.6L474.6 445.3Z" fill="#151515"/>
<path d="M474.6 525.3L525.6 572.5L525.6 581.0L474.6 531.8Z" fill="#383838"/><path d="M476.20000000000005 525L525.6 570.8L525.6 572.5L474.6 525.3Z" fill="#151515"/>
<path d="M474.6 587.3L525.6 634L525.6 642.5L474.6 593.8Z" fill="#383838"/><path d="M476.20000000000005 587L525.6 632.3L525.6 634L474.6 587.3Z" fill="#151515"/>
<path d="M474.6 649.3L525.6 695L525.6 703.5L474.6 655.8Z" fill="#383838"/><path d="M476.20000000000005 649L525.6 693.3L525.6 695L474.6 649.3Z" fill="#151515"/>
<path d="M474.6 710.3L525.6 751L525.6 759.5L474.6 716.8Z" fill="#383838"/><path d="M476.20000000000005 710L525.6 749.3L525.6 751L474.6 710.3Z" fill="#151515"/>
<path d="M534.2 260.3L585.3 307.5L585.3 316.0L534.2 266.8Z" fill="#5f5f5f"/><path d="M535.8000000000001 260L585.3 305.8L585.3 307.5L534.2 260.3Z" fill="#4d4d4d"/>
<path d="M534.2 322.3L585.3 369L585.3 377.5L534.2 328.8Z" fill="#5f5f5f"/><path d="M535.8000000000001 322L585.3 367.3L585.3 369L534.2 322.3Z" fill="#4d4d4d"/>
<path d="M534.2 384.3L585.3 430L585.3 438.5L534.2 390.8Z" fill="#5f5f5f"/><path d="M535.8000000000001 384L585.3 428.3L585.3 430L534.2 384.3Z" fill="#4d4d4d"/>
<path d="M534.2 445.3L585.3 492.6L585.3 501.1L534.2 451.8Z" fill="#5f5f5f"/><path d="M535.8000000000001 445L585.3 490.90000000000003L585.3 492.6L534.2 445.3Z" fill="#4d4d4d"/>
<path d="M534.2 525.3L585.3 572.5L585.3 581.0L534.2 531.8Z" fill="#5f5f5f"/><path d="M535.8000000000001 525L585.3 570.8L585.3 572.5L534.2 525.3Z" fill="#4d4d4d"/>
<path d="M534.2 587.3L585.3 634L585.3 642.5L534.2 593.8Z" fill="#5f5f5f"/><path d="M535.8000000000001 587L585.3 632.3L585.3 634L534.2 587.3Z" fill="#4d4d4d"/>
<path d="M534.2 649.3L585.3 695L585.3 703.5L534.2 655.8Z" fill="#5f5f5f"/><path d="M535.8000000000001 649L585.3 693.3L585.3 695L534.2 649.3Z" fill="#4d4d4d"/>
<path d="M534.2 710.3L585.3 751L585.3 759.5L534.2 716.8Z" fill="#5f5f5f"/><path d="M535.8000000000001 710L585.3 749.3L585.3 751L534.2 710.3Z" fill="#4d4d4d"/>
<path d="M619.4 260.3L670 307.5L670 316.0L619.4 266.8Z" fill="#5f5f5f"/><path d="M621.0 260L670 305.8L670 307.5L619.4 260.3Z" fill="#4d4d4d"/>
<path d="M619.4 322.3L670 369L670 377.5L619.4 328.8Z" fill="#5f5f5f"/><path d="M621.0 322L670 367.3L670 369L619.4 322.3Z" fill="#4d4d4d"/>
<path d="M619.4 384.3L670 430L670 438.5L619.4 390.8Z" fill="#5f5f5f"/><path d="M621.0 384L670 428.3L670 430L619.4 384.3Z" fill="#4d4d4d"/>
<path d="M619.4 445.3L670 492.6L670 501.1L619.4 451.8Z" fill="#5f5f5f"/><path d="M621.0 445L670 490.90000000000003L670 492.6L619.4 445.3Z" fill="#4d4d4d"/>
<path d="M619.4 525.3L670 572.5L670 581.0L619.4 531.8Z" fill="#5f5f5f"/><path d="M621.0 525L670 570.8L670 572.5L619.4 525.3Z" fill="#4d4d4d"/>
<path d="M619.4 587.3L670 634L670 642.5L619.4 593.8Z" fill="#5f5f5f"/><path d="M621.0 587L670 632.3L670 634L619.4 587.3Z" fill="#4d4d4d"/>
<path d="M619.4 649.3L670 695L670 703.5L619.4 655.8Z" fill="#5f5f5f"/><path d="M621.0 649L670 693.3L670 695L619.4 649.3Z" fill="#4d4d4d"/>
<path d="M619.4 710.3L670 751L670 759.5L619.4 716.8Z" fill="#5f5f5f"/><path d="M621.0 710L670 749.3L670 751L619.4 710.3Z" fill="#4d4d4d"/>
<path d="M865.9 260.3L916.6 307.5L916.6 316.0L865.9 266.8Z" fill="#383838"/><path d="M867.5 260L916.6 305.8L916.6 307.5L865.9 260.3Z" fill="#151515"/>
<path d="M865.9 322.3L916.6 369L916.6 377.5L865.9 328.8Z" fill="#383838"/><path d="M867.5 322L916.6 367.3L916.6 369L865.9 322.3Z" fill="#151515"/>
<path d="M865.9 384.3L916.6 430L916.6 438.5L865.9 390.8Z" fill="#383838"/><path d="M867.5 384L916.6 428.3L916.6 430L865.9 384.3Z" fill="#151515"/>
<path d="M865.9 445.3L916.6 492.6L916.6 501.1L865.9 451.8Z" fill="#383838"/><path d="M867.5 445L916.6 490.90000000000003L916.6 492.6L865.9 445.3Z" fill="#151515"/>
<path d="M865.9 525.3L916.6 572.5L916.6 581.0L865.9 531.8Z" fill="#383838"/><path d="M867.5 525L916.6 570.8L916.6 572.5L865.9 525.3Z" fill="#151515"/>
<path d="M865.9 587.3L916.6 634L916.6 642.5L865.9 593.8Z" fill="#383838"/><path d="M867.5 587L916.6 632.3L916.6 634L865.9 587.3Z" fill="#151515"/>
<path d="M865.9 649.3L916.6 695L916.6 703.5L865.9 655.8Z" fill="#383838"/><path d="M867.5 649L916.6 693.3L916.6 695L865.9 649.3Z" fill="#151515"/>
<path d="M865.9 710.3L916.6 751L916.6 759.5L865.9 716.8Z" fill="#383838"/><path d="M867.5 710L916.6 749.3L916.6 751L865.9 710.3Z" fill="#151515"/>
<path d="M951.2 260.3L1000.8 307.5L1000.8 316.0L951.2 266.8Z" fill="#383838"/><path d="M952.8000000000001 260L1000.8 305.8L1000.8 307.5L951.2 260.3Z" fill="#151515"/>
<path d="M951.2 322.3L1000.8 369L1000.8 377.5L951.2 328.8Z" fill="#383838"/><path d="M952.8000000000001 322L1000.8 367.3L1000.8 369L951.2 322.3Z" fill="#151515"/>
<path d="M951.2 384.3L1000.8 430L1000.8 438.5L951.2 390.8Z" fill="#383838"/><path d="M952.8000000000001 384L1000.8 428.3L1000.8 430L951.2 384.3Z" fill="#151515"/>
<path d="M951.2 445.3L1000.8 492.6L1000.8 501.1L951.2 451.8Z" fill="#383838"/><path d="M952.8000000000001 445L1000.8 490.90000000000003L1000.8 492.6L951.2 445.3Z" fill="#151515"/>
<path d="M951.2 525.3L1000.8 572.5L1000.8 581.0L951.2 531.8Z" fill="#383838"/><path d="M952.8000000000001 525L1000.8 570.8L1000.8 572.5L951.2 525.3Z" fill="#151515"/>
<path d="M951.2 587.3L1000.8 634L1000.8 642.5L951.2 593.8Z" fill="#383838"/><path d="M952.8000000000001 587L1000.8 632.3L1000.8 634L951.2 587.3Z" fill="#151515"/>
<path d="M951.2 649.3L1000.8 695L1000.8 703.5L951.2 655.8Z" fill="#383838"/><path d="M952.8000000000001 649L1000.8 693.3L1000.8 695L951.2 649.3Z" fill="#151515"/>
<path d="M951.2 710.3L1000.8 751L1000.8 759.5L951.2 716.8Z" fill="#383838"/><path d="M952.8000000000001 710L1000.8 749.3L1000.8 751L951.2 710.3Z" fill="#151515"/>
<rect x="108.5" y="236.4" width="8.6" height="543.6" fill="#5f5f5f"/><rect x="117.1" y="236.4" width="2.8" height="543.6" fill="#4d4d4d"/>
<rect x="440.5" y="236.4" width="8.6" height="543.6" fill="#383838"/><rect x="449.1" y="236.4" width="2.8" height="543.6" fill="#151515"/>
<rect x="525.6" y="236.4" width="8.6" height="543.6" fill="#383838"/><rect x="534.2" y="236.4" width="2.8" height="543.6" fill="#151515"/>
<rect x="585.3" y="236.4" width="8.6" height="543.6" fill="#5f5f5f"/><rect x="593.9" y="236.4" width="2.8" height="543.6" fill="#4d4d4d"/>
<rect x="916.6" y="236.4" width="8.6" height="543.6" fill="#383838"/><rect x="925.2" y="236.4" width="2.8" height="543.6" fill="#151515"/>
<rect x="1000.8" y="236.4" width="8.6" height="543.6" fill="#383838"/><rect x="1009.4" y="236.4" width="2.8" height="543.6" fill="#151515"/>
<rect x="43.1" y="758.2" width="82.80000000000001" height="17.799999999999955" fill="#0c80cb"/>
<rect x="43.1" y="776" width="10.199999999999996" height="4" fill="#0c80cb"/>
<rect x="112.5" y="776" width="13.400000000000006" height="4" fill="#0c80cb"/>
<rect x="118.9" y="758.2" width="7" height="21.799999999999955" fill="#0a69ad"/>
<rect x="53.3" y="762.9" width="59.2" height="9.3" fill="#5f5f5f"/>
<rect x="53.3" y="776" width="7" height="4" fill="#5f5f5f"/><rect x="108.5" y="776" width="4" height="4" fill="#5f5f5f"/>
<rect x="128.4" y="758.2" width="82.6" height="17.799999999999955" fill="#0c80cb"/>
<rect x="128.4" y="776" width="10.099999999999994" height="4" fill="#0c80cb"/>
<rect x="197.5" y="776" width="13.5" height="4" fill="#0c80cb"/>
<rect x="204" y="758.2" width="7" height="21.799999999999955" fill="#0a69ad"/>
<rect x="138.5" y="762.9" width="59.0" height="9.3" fill="#5f5f5f"/>
<rect x="138.5" y="776" width="7" height="4" fill="#5f5f5f"/><rect x="193.5" y="776" width="4" height="4" fill="#5f5f5f"/>
<rect x="375" y="758.2" width="82.39999999999998" height="17.799999999999955" fill="#0c80cb"/>
<rect x="375" y="776" width="10.5" height="4" fill="#0c80cb"/>
<rect x="444.5" y="776" width="12.899999999999977" height="4" fill="#0c80cb"/>
<rect x="450.4" y="758.2" width="7" height="21.799999999999955" fill="#0a69ad"/>
<rect x="385.5" y="762.9" width="59.0" height="9.3" fill="#383838"/>
<rect x="385.5" y="776" width="7" height="4" fill="#383838"/><rect x="440.5" y="776" width="4" height="4" fill="#383838"/>
<rect x="460" y="758.2" width="79.29999999999995" height="17.799999999999955" fill="#0c80cb"/>
<rect x="460" y="776" width="10.199999999999989" height="4" fill="#0c80cb"/>
<rect x="529.3" y="776" width="10.0" height="4" fill="#0c80cb"/>
<rect x="532.3" y="758.2" width="7" height="21.799999999999955" fill="#0a69ad"/>
<rect x="470.2" y="762.9" width="59.099999999999966" height="9.3" fill="#383838"/>
<rect x="470.2" y="776" width="7" height="4" fill="#383838"/><rect x="525.3" y="776" width="4" height="4" fill="#383838"/>
<rect x="541.5" y="758.2" width="57.5" height="17.799999999999955" fill="#0c80cb"/>
<rect x="541.5" y="776" width="1.1000000000000227" height="4" fill="#0c80cb"/>
<rect x="588" y="776" width="11" height="4" fill="#0c80cb"/>
<rect x="592" y="758.2" width="7" height="21.799999999999955" fill="#0a69ad"/>
<rect x="542.6" y="762.9" width="45.39999999999998" height="9.3" fill="#5f5f5f"/>
<rect x="542.6" y="776" width="7" height="4" fill="#5f5f5f"/><rect x="584" y="776" width="4" height="4" fill="#5f5f5f"/>
<rect x="604.6" y="758.2" width="82.5" height="17.799999999999955" fill="#0c80cb"/>
<rect x="604.6" y="776" width="9.899999999999977" height="4" fill="#0c80cb"/>
<rect x="673.9" y="776" width="13.200000000000045" height="4" fill="#0c80cb"/>
<rect x="680.1" y="758.2" width="7" height="21.799999999999955" fill="#0a69ad"/>
<rect x="614.5" y="762.9" width="59.39999999999998" height="9.3" fill="#5f5f5f"/>
<rect x="614.5" y="776" width="7" height="4" fill="#5f5f5f"/><rect x="669.9" y="776" width="4" height="4" fill="#5f5f5f"/>
<rect x="851" y="758.2" width="82.70000000000005" height="17.799999999999955" fill="#0c80cb"/>
<rect x="851" y="776" width="10" height="4" fill="#0c80cb"/>
<rect x="920.2" y="776" width="13.5" height="4" fill="#0c80cb"/>
<rect x="926.7" y="758.2" width="7" height="21.799999999999955" fill="#0a69ad"/>
<rect x="861" y="762.9" width="59.200000000000045" height="9.3" fill="#383838"/>
<rect x="861" y="776" width="7" height="4" fill="#383838"/><rect x="916.2" y="776" width="4" height="4" fill="#383838"/>
<rect x="936.4" y="758.2" width="64.89999999999998" height="17.799999999999955" fill="#0c80cb"/>
<rect x="936.4" y="776" width="9.800000000000068" height="4" fill="#0c80cb"/>
<rect x="1005" y="776" width="-3.7000000000000455" height="4" fill="#0c80cb"/>
<rect x="994.3" y="758.2" width="7" height="21.799999999999955" fill="#0a69ad"/>
<rect x="946.2" y="762.9" width="58.799999999999955" height="9.3" fill="#383838"/>
<rect x="946.2" y="776" width="7" height="4" fill="#383838"/><rect x="1001" y="776" width="4" height="4" fill="#383838"/>
<use href="#robotL" transform="translate(209.4,364.9)"/>
<use href="#crateR" x="215" y="330.5" width="87.2" height="38.7"/>
<use href="#robotR" transform="translate(209.4,364.9)"/>
<use href="#robotL" transform="translate(755.1999999999999,305.29999999999995)"/>
<use href="#crateR" x="760.8" y="270.9" width="87.2" height="38.7"/>
<use href="#robotR" transform="translate(755.1999999999999,305.29999999999995)"/>
<use href="#robotL" transform="translate(685.4,426.59999999999997)"/>
<use href="#crateR" x="691" y="392.2" width="87.2" height="38.7"/>
<use href="#robotR" transform="translate(685.4,426.59999999999997)"/>
<use href="#robotL" transform="translate(272.7,691.1999999999999)"/>
<use href="#crateR" x="278.3" y="656.8" width="87.2" height="38.7"/>
<use href="#robotR" transform="translate(272.7,691.1999999999999)"/>
<rect x="1066.7" y="278.8" width="123.3" height="4.7" fill="#cfcfcf"/>
<use href="#robotL" transform="translate(1070.4,268.4)"/>
<use href="#crateR" x="1076" y="234" width="87.2" height="38.7"/>
<use href="#robotR" transform="translate(1070.4,268.4)"/>
<use href="#robotL" transform="translate(1037.0,724.1999999999999)"/>
<use href="#crateR" x="1042.6" y="689.8" width="87.2" height="38.7"/>
<use href="#robotR" transform="translate(1037.0,724.1999999999999)"/>
<use href="#robotL" transform="translate(1219.4,724.4)"/>
<use href="#crateR" x="1225" y="690" width="87.2" height="38.7"/>
<use href="#robotR" transform="translate(1219.4,724.4)"/>
<line x1="254.2" y1="141.6" x2="254.2" y2="336" stroke="#000" stroke-width="2.4" stroke-dasharray="5.6 2.6"/>
<line x1="316.6" y1="136.5" x2="316.6" y2="665" stroke="#000" stroke-width="2.4" stroke-dasharray="5.6 2.6"/>
<line x1="730.9" y1="174.7" x2="730.9" y2="399.5" stroke="#000" stroke-width="2.4" stroke-dasharray="5.6 2.6"/>
<line x1="800.3" y1="164.3" x2="800.3" y2="279" stroke="#000" stroke-width="2.4" stroke-dasharray="5.6 2.6"/>
<path d="M1012.6 314.4 L1137.4 431.5 L1137.4 513.6 L1012.6 670.8 Z" fill="url(#cone)"/>
<rect x="977" y="182.5" width="14" height="622" fill="#393939"/>
<rect x="991" y="182.5" width="6" height="622" fill="#121212"/>
<rect x="977" y="182.5" width="13.5" height="10" fill="#e9956a"/><rect x="991.8" y="182.5" width="5.2" height="10" fill="#e9956a"/>
<path d="M977 253H990.6V285.1H981.3L977 280.3Z" fill="#dcdcdc"/>
<circle cx="983.3" cy="260.6" r="2" fill="#2a2a2a"/><circle cx="983.3" cy="276.5" r="2" fill="#2a2a2a"/>
<rect x="992" y="253" width="5.3" height="32.1" fill="#d3d3d3"/>
<path d="M997.3 253 C997.6 247.5 1004 246.8 1013.5 246.8 C1023 246.8 1029.5 247.5 1030 253 Z" fill="#ec9a69"/>
<rect x="997.3" y="253" width="52.3" height="32.6" fill="#5e3816"/>
<rect x="997.3" y="263.2" width="34.6" height="1.9" fill="#160b06"/><rect x="1029.8" y="263.2" width="2.1" height="22.4" fill="#160b06"/>
<rect x="1049.6" y="259" width="17.4" height="19.8" fill="#eb9a6c"/>
<rect x="1049.6" y="278.8" width="17.4" height="4.3" fill="#5a3614"/>
<rect x="1001.5" y="734.8" width="375.3" height="19.7" fill="#383838"/>
<rect x="1376.8" y="734.8" width="99.8" height="19.7" fill="#161616"/>
<rect x="1001.5" y="754.5" width="375.3" height="13.5" fill="#c6c6c6"/>
<rect x="1376.8" y="754.5" width="99.8" height="13.5" fill="#a3a3a3"/>
<rect x="1001.5" y="768" width="89.5" height="23.399999999999977" fill="#c6c6c6"/>
<path d="M1091 768H1105.7V786.0L1100.7 791.4H1087L1091 786.0Z" fill="#a0a0a0"/>
<path d="M1120 768H1131.7V791.4H1125L1120 786Z" fill="#c6c6c6"/>
<path d="M1131.7 768H1155.3V791.4H1137L1131.7 786Z" fill="#a0a0a0"/>
<rect x="1155.3" y="768" width="83.20000000000005" height="23.399999999999977" fill="#c6c6c6"/>
<path d="M1238.5 768H1253V786.0L1248 791.4H1234.5L1238.5 786.0Z" fill="#a0a0a0"/>
<path d="M1287.6 768H1376.8V791.4H1292.6L1287.6 786.0Z" fill="#c6c6c6"/>
<path d="M1376.8 768H1400V786.0L1395 791.4H1372.8L1376.8 786.0Z" fill="#a0a0a0"/>
<path d="M1440.8 768H1452.6V791.4H1445.8L1440.8 786Z" fill="#c6c6c6"/>
<path d="M1452.6 768H1476.6V791.4H1457.6L1452.6 786Z" fill="#a0a0a0"/>
<rect x="1040.6" y="791.4" width="12.2" height="15.5" fill="#383838"/><rect x="1052.8" y="791.4" width="5.8" height="15.5" fill="#151515"/>
<rect x="1013.7" y="806.8" width="54.299999999999955" height="10" fill="#c6c6c6"/><rect x="1068.0" y="806.8" width="12.5" height="10" fill="#9d9d9d"/>
<rect x="1155.3" y="791.4" width="12.2" height="15.5" fill="#383838"/><rect x="1167.5" y="791.4" width="5.8" height="15.5" fill="#151515"/>
<rect x="1127.6" y="806.8" width="54.80000000000018" height="10" fill="#c6c6c6"/><rect x="1182.4" y="806.8" width="12.5" height="10" fill="#9d9d9d"/>
<rect x="1325" y="791.4" width="12.2" height="15.5" fill="#383838"/><rect x="1337.2" y="791.4" width="5.8" height="15.5" fill="#151515"/>
<rect x="1297.7" y="806.8" width="54.0" height="10" fill="#c6c6c6"/><rect x="1351.7" y="806.8" width="12.5" height="10" fill="#9d9d9d"/>
<rect x="1452.6" y="791.4" width="12.2" height="15.5" fill="#383838"/><rect x="1464.8" y="791.4" width="5.8" height="15.5" fill="#151515"/>
<rect x="1425.3" y="806.8" width="54.0" height="10" fill="#c6c6c6"/><rect x="1479.3" y="806.8" width="12.5" height="10" fill="#9d9d9d"/>
<rect x="45" y="797.5" width="880" height="6" fill="#a8a8a8"/>
<rect x="45" y="803.5" width="880" height="14.5" fill="#ffffff"/>
<path d="M916.8 802 L921 796.5 Q923 795.3 926 795.2 L977 794.6 L997 794.6 L997 798 L1000.3 798.3 L1003.9 811.4 L1000.5 817.6 L929.5 818.8 Z" fill="#d8d8da"/>
<path d="M926 807.5 L1003 807.5 L1003.9 811.4 L1000.5 817.6 L929.5 818.8 Z" fill="#e3e3e4"/>
<path d="M916.8 802 L921 796.5 L925.5 797 L931.5 815 L929.5 818.8 Z" fill="#c2c2c4"/>
<path d="M986.7 807.5 L993.8 807.5 L991.4 813.8 Z" fill="#5a5540"/>
<ellipse cx="932" cy="813" rx="6" ry="4" transform="rotate(-22 932 813)" fill="#1d1c16"/>
<ellipse cx="997.7" cy="812.2" rx="6" ry="4" transform="rotate(-22 997.7 812.2)" fill="#1d1c16"/>
<rect x="977" y="790" width="14" height="14.5" fill="#393939"/><rect x="991" y="790" width="6" height="14.5" fill="#121212"/>
<use href="#badge" transform="translate(252.6,405.4) scale(0.6051)"/>
<use href="#badge" transform="translate(317.7,733.2) scale(0.6051)"/>
<use href="#badge" transform="translate(728.9,467.8) scale(0.6051)"/>
<use href="#badge" transform="translate(950.5,289.5) scale(0.6051)" opacity="0.92"/>
<use href="#badge" transform="translate(951,481.5) scale(0.6051)" opacity="0.92"/>
<use href="#badge" transform="translate(949.4,678) scale(0.6051)" opacity="0.92"/>
<use href="#badge" transform="translate(1067.1,466.9) scale(1.0000)"/>
<use href="#badge" transform="translate(1267.2,756.2) scale(0.5987)"/>
<text x="1150.42" y="446.2" font-family="Liberation Sans, sans-serif" font-weight="bold" font-size="27.5" fill="#fff" stroke="#fff" stroke-width="0.9" textLength="29.86" lengthAdjust="spacingAndGlyphs">W</text>
<text x="1181.41" y="446.2" font-family="Liberation Sans, sans-serif" font-weight="bold" font-size="27.5" fill="#fff" stroke="#fff" stroke-width="0.9" textLength="8.87" lengthAdjust="spacingAndGlyphs">I</text>
<text x="1191.69" y="446.2" font-family="Liberation Sans, sans-serif" font-weight="bold" font-size="27.5" fill="#fff" stroke="#fff" stroke-width="0.9" textLength="19.00" lengthAdjust="spacingAndGlyphs">R</text>
<text x="1211.91" y="446.2" font-family="Liberation Sans, sans-serif" font-weight="bold" font-size="27.5" fill="#fff" stroke="#fff" stroke-width="0.9" textLength="15.34" lengthAdjust="spacingAndGlyphs">E</text>
<text x="1229.31" y="446.2" font-family="Liberation Sans, sans-serif" font-weight="bold" font-size="27.5" fill="#fff" stroke="#fff" stroke-width="0.9" textLength="15.00" lengthAdjust="spacingAndGlyphs">L</text>
<text x="1245.79" y="446.2" font-family="Liberation Sans, sans-serif" font-weight="bold" font-size="27.5" fill="#fff" stroke="#fff" stroke-width="0.9" textLength="15.57" lengthAdjust="spacingAndGlyphs">E</text>
<text x="1262.99" y="446.2" font-family="Liberation Sans, sans-serif" font-weight="bold" font-size="27.5" fill="#fff" stroke="#fff" stroke-width="0.9" textLength="17.59" lengthAdjust="spacingAndGlyphs">S</text>
<text x="1281.68" y="446.2" font-family="Liberation Sans, sans-serif" font-weight="bold" font-size="27.5" fill="#fff" stroke="#fff" stroke-width="0.9" textLength="17.92" lengthAdjust="spacingAndGlyphs">S</text>
<text x="1308.96" y="446.2" font-family="Liberation Sans, sans-serif" font-weight="bold" font-size="27.5" fill="#fff" stroke="#fff" stroke-width="0.9" textLength="18.86" lengthAdjust="spacingAndGlyphs">P</text>
<text x="1328.38" y="446.2" font-family="Liberation Sans, sans-serif" font-weight="bold" font-size="27.5" fill="#fff" stroke="#fff" stroke-width="0.9" textLength="22.17" lengthAdjust="spacingAndGlyphs">O</text>
<text x="1351.42" y="446.2" font-family="Liberation Sans, sans-serif" font-weight="bold" font-size="27.5" fill="#fff" stroke="#fff" stroke-width="0.9" textLength="30.36" lengthAdjust="spacingAndGlyphs">W</text>
<text x="1383.24" y="446.2" font-family="Liberation Sans, sans-serif" font-weight="bold" font-size="27.5" fill="#fff" stroke="#fff" stroke-width="0.9" textLength="16.05" lengthAdjust="spacingAndGlyphs">E</text>
<text x="1400.50" y="446.2" font-family="Liberation Sans, sans-serif" font-weight="bold" font-size="27.5" fill="#fff" stroke="#fff" stroke-width="0.9" textLength="18.89" lengthAdjust="spacingAndGlyphs">R</text>
<text x="1148.74" y="476.6" font-family="Liberation Sans, sans-serif" font-weight="bold" font-size="27.5" fill="#fff" stroke="#fff" stroke-width="0.9" textLength="23.36" lengthAdjust="spacingAndGlyphs">A</text>
<text x="1168.62" y="476.6" font-family="Liberation Sans, sans-serif" font-weight="bold" font-size="27.5" fill="#fff" stroke="#fff" stroke-width="0.9" textLength="22.46" lengthAdjust="spacingAndGlyphs">V</text>
<text x="1187.74" y="476.6" font-family="Liberation Sans, sans-serif" font-weight="bold" font-size="27.5" fill="#fff" stroke="#fff" stroke-width="0.9" textLength="23.57" lengthAdjust="spacingAndGlyphs">A</text>
<text x="1210.51" y="476.6" font-family="Liberation Sans, sans-serif" font-weight="bold" font-size="27.5" fill="#fff" stroke="#fff" stroke-width="0.9" textLength="8.49" lengthAdjust="spacingAndGlyphs">I</text>
<text x="1220.58" y="476.6" font-family="Liberation Sans, sans-serif" font-weight="bold" font-size="27.5" fill="#fff" stroke="#fff" stroke-width="0.9" textLength="15.24" lengthAdjust="spacingAndGlyphs">L</text>
<text x="1235.85" y="476.6" font-family="Liberation Sans, sans-serif" font-weight="bold" font-size="27.5" fill="#fff" stroke="#fff" stroke-width="0.9" textLength="23.25" lengthAdjust="spacingAndGlyphs">A</text>
<text x="1259.25" y="476.6" font-family="Liberation Sans, sans-serif" font-weight="bold" font-size="27.5" fill="#fff" stroke="#fff" stroke-width="0.9" textLength="18.35" lengthAdjust="spacingAndGlyphs">B</text>
<text x="1279.83" y="476.6" font-family="Liberation Sans, sans-serif" font-weight="bold" font-size="27.5" fill="#fff" stroke="#fff" stroke-width="0.9" textLength="14.76" lengthAdjust="spacingAndGlyphs">L</text>
<text x="1295.89" y="476.6" font-family="Liberation Sans, sans-serif" font-weight="bold" font-size="27.5" fill="#fff" stroke="#fff" stroke-width="0.9" textLength="15.57" lengthAdjust="spacingAndGlyphs">E</text>
<text x="1319.64" y="476.6" font-family="Liberation Sans, sans-serif" font-weight="bold" font-size="27.5" fill="#fff" stroke="#fff" stroke-width="0.9" textLength="23.57" lengthAdjust="spacingAndGlyphs">A</text>
<text x="1342.52" y="476.6" font-family="Liberation Sans, sans-serif" font-weight="bold" font-size="27.5" fill="#fff" stroke="#fff" stroke-width="0.9" textLength="20.88" lengthAdjust="spacingAndGlyphs">N</text>
<text x="1362.37" y="476.6" font-family="Liberation Sans, sans-serif" font-weight="bold" font-size="27.5" fill="#fff" stroke="#fff" stroke-width="0.9" textLength="22.73" lengthAdjust="spacingAndGlyphs">Y</text>
<text x="1384.82" y="476.6" font-family="Liberation Sans, sans-serif" font-weight="bold" font-size="27.5" fill="#fff" stroke="#fff" stroke-width="0.9" textLength="30.26" lengthAdjust="spacingAndGlyphs">W</text>
<text x="1415.40" y="476.6" font-family="Liberation Sans, sans-serif" font-weight="bold" font-size="27.5" fill="#fff" stroke="#fff" stroke-width="0.9" textLength="22.11" lengthAdjust="spacingAndGlyphs">H</text>
<text x="1439.24" y="476.6" font-family="Liberation Sans, sans-serif" font-weight="bold" font-size="27.5" fill="#fff" stroke="#fff" stroke-width="0.9" textLength="16.05" lengthAdjust="spacingAndGlyphs">E</text>
<text x="1456.51" y="476.6" font-family="Liberation Sans, sans-serif" font-weight="bold" font-size="27.5" fill="#fff" stroke="#fff" stroke-width="0.9" textLength="18.77" lengthAdjust="spacingAndGlyphs">R</text>
<text x="1477.09" y="476.6" font-family="Liberation Sans, sans-serif" font-weight="bold" font-size="27.5" fill="#fff" stroke="#fff" stroke-width="0.9" textLength="15.57" lengthAdjust="spacingAndGlyphs">E</text>
<text x="1149.37" y="507.5" font-family="Liberation Sans, sans-serif" font-weight="bold" font-size="27.5" fill="#fff" stroke="#fff" stroke-width="0.9" textLength="9.45" lengthAdjust="spacingAndGlyphs">I</text>
<text x="1158.45" y="507.5" font-family="Liberation Sans, sans-serif" font-weight="bold" font-size="27.5" fill="#fff" stroke="#fff" stroke-width="0.9" textLength="21.62" lengthAdjust="spacingAndGlyphs">N</text>
<text x="1189.23" y="507.5" font-family="Liberation Sans, sans-serif" font-weight="bold" font-size="27.5" fill="#fff" stroke="#fff" stroke-width="0.9" textLength="17.53" lengthAdjust="spacingAndGlyphs">T</text>
<text x="1207.35" y="507.5" font-family="Liberation Sans, sans-serif" font-weight="bold" font-size="27.5" fill="#fff" stroke="#fff" stroke-width="0.9" textLength="21.62" lengthAdjust="spacingAndGlyphs">H</text>
<text x="1230.30" y="507.5" font-family="Liberation Sans, sans-serif" font-weight="bold" font-size="27.5" fill="#fff" stroke="#fff" stroke-width="0.9" textLength="16.41" lengthAdjust="spacingAndGlyphs">E</text>
<text x="1256.18" y="507.5" font-family="Liberation Sans, sans-serif" font-weight="bold" font-size="27.5" fill="#fff" stroke="#fff" stroke-width="0.9" textLength="17.81" lengthAdjust="spacingAndGlyphs">S</text>
<text x="1271.68" y="507.5" font-family="Liberation Sans, sans-serif" font-weight="bold" font-size="27.5" fill="#fff" stroke="#fff" stroke-width="0.9" textLength="22.42" lengthAdjust="spacingAndGlyphs">Y</text>
<text x="1292.48" y="507.5" font-family="Liberation Sans, sans-serif" font-weight="bold" font-size="27.5" fill="#fff" stroke="#fff" stroke-width="0.9" textLength="17.81" lengthAdjust="spacingAndGlyphs">S</text>
<text x="1309.82" y="507.5" font-family="Liberation Sans, sans-serif" font-weight="bold" font-size="27.5" fill="#fff" stroke="#fff" stroke-width="0.9" textLength="17.95" lengthAdjust="spacingAndGlyphs">T</text>
<text x="1329.58" y="507.5" font-family="Liberation Sans, sans-serif" font-weight="bold" font-size="27.5" fill="#fff" stroke="#fff" stroke-width="0.9" textLength="15.69" lengthAdjust="spacingAndGlyphs">E</text>
<text x="1346.67" y="507.5" font-family="Liberation Sans, sans-serif" font-weight="bold" font-size="27.5" fill="#fff" stroke="#fff" stroke-width="0.9" textLength="23.35" lengthAdjust="spacingAndGlyphs">M</text>
</svg></body></html>
